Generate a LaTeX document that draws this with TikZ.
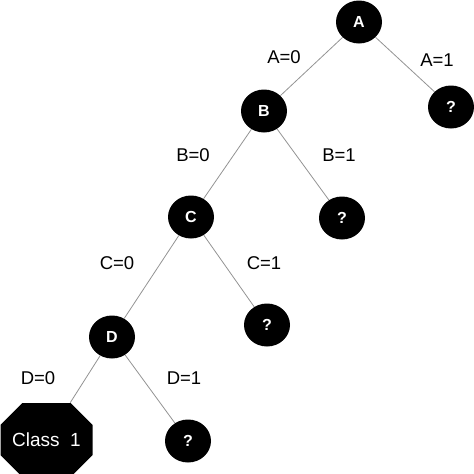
\documentclass[tikz,border=0pt]{standalone}
\usepackage{fontspec}
\setmainfont{Liberation Sans}
\usepackage{tikz}
\usetikzlibrary{shapes.geometric,shapes.misc}

\tikzset{
  attr/.style={ellipse,fill=black,text=white,inner sep=0pt,minimum width=46pt,minimum height=43pt,font=\fontsize{16}{16}\selectfont\bfseries},
  leaf/.style={chamfered rectangle,chamfered rectangle xsep=15pt,chamfered rectangle ysep=15pt,fill=black,text=white,inner sep=0pt,minimum width=92pt,minimum height=74pt,font=\fontsize{19}{19}\selectfont},
  val/.style={font=\fontsize{18.5}{18.5}\selectfont},
  branch/.style={draw=gray!85,line width=0.8pt}
}

\begin{document}
\begin{tikzpicture}[x=1pt,y=-1pt]
\useasboundingbox (0,0) rectangle (474,474);
\node[attr] (A) at (359,22) {A};
\node[attr] (qA) at (451,107) {?};
\node[attr] (B) at (264,111) {B};
\node[attr] (qB) at (342,218) {?};
\node[attr] (C) at (191,217) {C};
\node[attr] (qC) at (267,325) {?};
\node[attr] (D) at (112,337) {D};
\node[attr] (qD) at (188,441) {?};
\node[leaf] (c1) at (46.5,440) {Class\ \ 1};

\draw[branch] (A) -- (B);
\draw[branch] (A) -- (qA);
\draw[branch] (B) -- (C);
\draw[branch] (B) -- (qB);
\draw[branch] (C) -- (D);
\draw[branch] (C) -- (qC);
\draw[branch] (D) -- (c1);
\draw[branch] (D) -- (qD);

\node[val] (a0) at (284,57) {A=0};
\node[val] (a1) at (437,60) {A=1};
\node[val] (b0) at (193,155) {B=0};
\node[val] (b1) at (339,155) {B=1};
\node[val] (c0) at (117,263) {C=0};
\node[val] (cc1) at (264,263) {C=1};
\node[val] (d0) at (38,378) {D=0};
\node[val] (d1) at (184,378) {D=1};
\end{tikzpicture}
\end{document}
